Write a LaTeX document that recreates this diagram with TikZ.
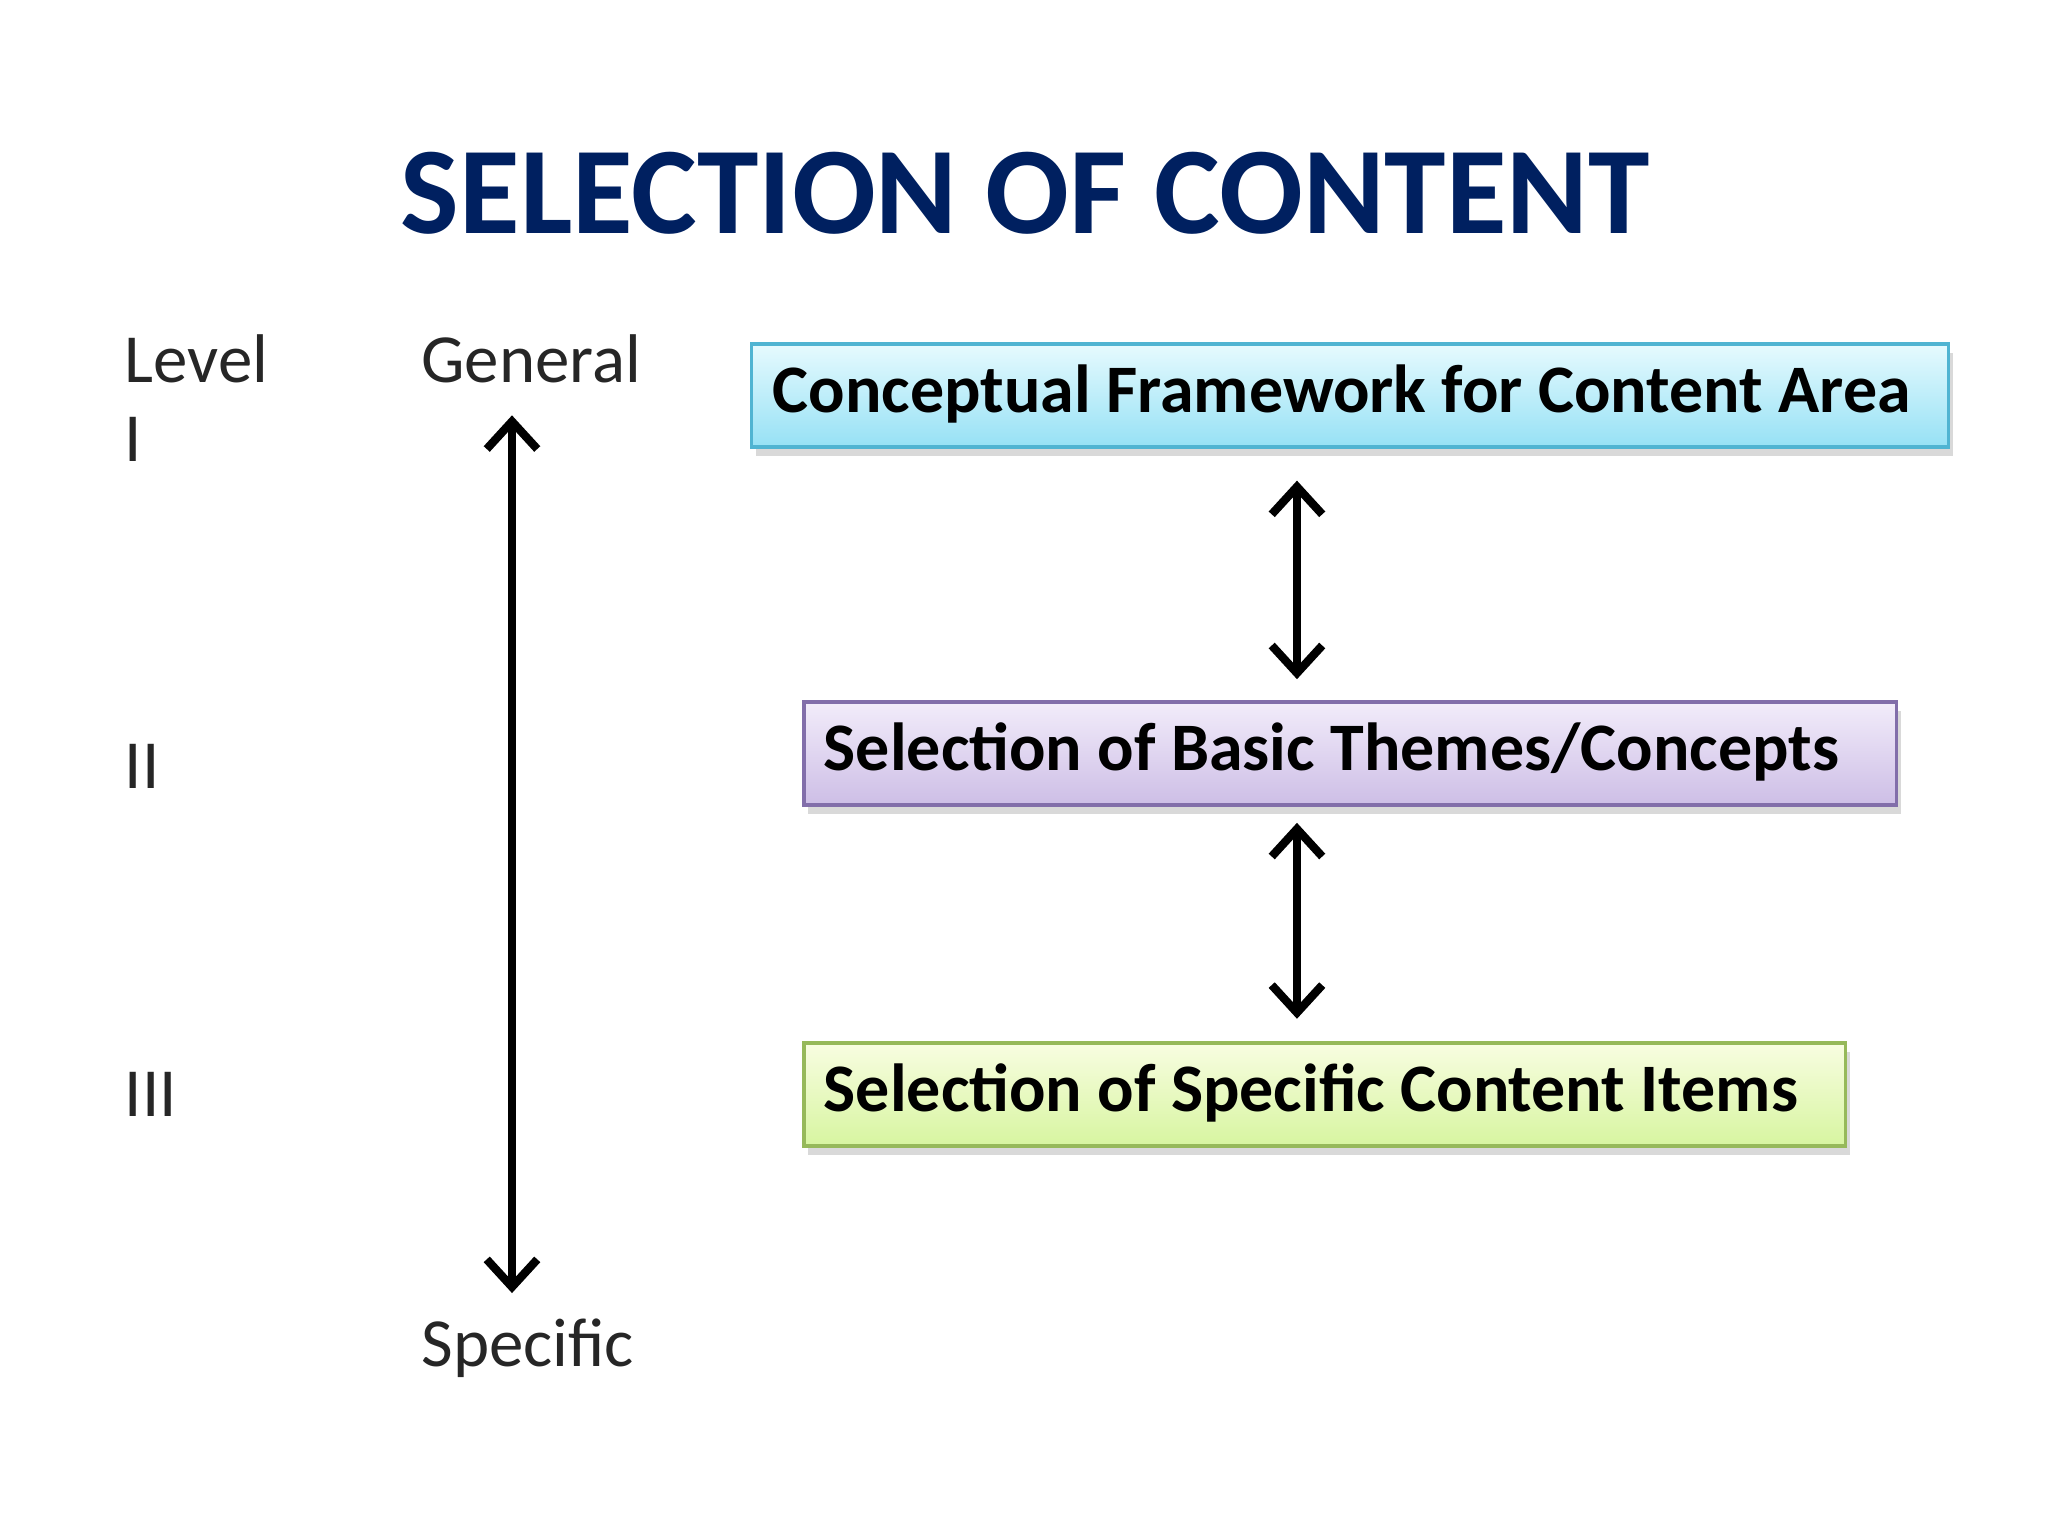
\documentclass[tikz,border=0pt]{standalone}
\usepackage{fontspec}
\setmainfont{Carlito}
\usetikzlibrary{arrows.meta,shadows}
\definecolor{navy}{RGB}{0,32,96}
\definecolor{c1l}{RGB}{230,250,254}\definecolor{c1d}{RGB}{150,225,245}\definecolor{c1b}{RGB}{80,180,210}
\definecolor{c2l}{RGB}{242,236,250}\definecolor{c2d}{RGB}{205,190,230}\definecolor{c2b}{RGB}{130,110,170}
\definecolor{c3l}{RGB}{248,253,225}\definecolor{c3d}{RGB}{215,245,160}\definecolor{c3b}{RGB}{150,185,90}
\begin{document}
\begin{tikzpicture}[x=0.01cm,y=-0.01cm,
  lbl/.style={anchor=base west,inner sep=0pt,font=\fontsize{15}{18}\selectfont,text=black!85},
  box/.style={draw=#1,line width=0.8pt,drop shadow={shadow xshift=1pt,shadow yshift=-2pt,opacity=0.3},anchor=north west,inner sep=0pt,minimum height=0.79cm},
  dbl/.style={{Straight Barb[length=6pt,width=11pt,line width=1.8pt]}-{Straight Barb[length=6pt,width=11pt,line width=1.8pt]},line width=1.6pt},
  btxt/.style={font=\bfseries\fontsize{14.8}{18}\selectfont,anchor=west,inner sep=0pt}]
\useasboundingbox (0,0) rectangle (1568,1176);
\node[font=\bfseries\fontsize{27}{32}\selectfont,text=navy] (title) at (785,148) {SELECTION OF CONTENT};
\node[lbl] (lev) at (95,293) {Level};
\node[lbl] (l1) at (95,353) {I};
\node[lbl] (l2) at (95,604) {II};
\node[lbl] (l3) at (95,855) {III};
\node[lbl] (gen) at (322,293) {General};
\node[lbl] (spec) at (322,1046) {Specific};
\coordinate (at) at (392,318);
\coordinate (ab) at (392,990);
\draw[dbl] (at) -- (ab);
\node[box=c1b,minimum width=9.16cm,top color=c1l,bottom color=c1d] (b1) at (574,262) {};
\node[btxt] (t1) at (591,302) {Conceptual Framework for Content Area};
\node[box=c2b,minimum width=8.36cm,top color=c2l,bottom color=c2d] (b2) at (614,536) {};
\node[btxt] (t2) at (630,576) {Selection of Basic Themes/Concepts};
\node[box=c3b,minimum width=7.97cm,top color=c3l,bottom color=c3d] (b3) at (614,797) {};
\node[btxt] (t3) at (630,837) {Selection of Specific Content Items};
\coordinate (a1t) at (993,368); \coordinate (a1b) at (993,520);
\coordinate (a2t) at (993,630); \coordinate (a2b) at (993,780);
\draw[dbl] (a1t) -- (a1b);
\draw[dbl] (a2t) -- (a2b);
\end{tikzpicture}
\end{document}
